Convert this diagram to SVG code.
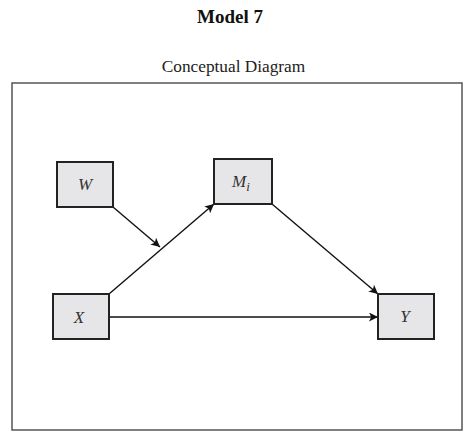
<svg xmlns="http://www.w3.org/2000/svg" width="474" height="442" viewBox="0 0 474 442">
<style>
.node rect{fill:#e6e6e8;stroke:#222;stroke-width:2}
.lbl{font-family:"Liberation Serif",serif;font-style:italic;font-size:17px;fill:#333;text-anchor:middle}
.conn line{stroke:#111;stroke-width:1.4}
</style>
<defs>
<marker id="ah" viewBox="0 0 10 10" refX="10" refY="5" markerWidth="9" markerHeight="9" markerUnits="userSpaceOnUse" orient="auto">
<path d="M0,0 L10,5 L0,10 L2.5,5 z" fill="#111"/>
</marker>
</defs>
<rect width="474" height="442" fill="#fff"/>
<text x="230" y="23" font-family="Liberation Serif, serif" font-weight="bold" font-size="19" text-anchor="middle" fill="#111">Model 7</text>
<text x="233.5" y="72" font-family="Liberation Serif, serif" font-size="17.3" text-anchor="middle" fill="#222">Conceptual Diagram</text>
<rect x="12" y="83" width="450" height="347" fill="none" stroke="#555" stroke-width="1.5"/>
<g class="conn">
<line x1="113" y1="207" x2="160" y2="247" marker-end="url(#ah)"/>
<line x1="109" y1="294" x2="214" y2="204" marker-end="url(#ah)"/>
<line x1="272" y1="204" x2="378" y2="294" marker-end="url(#ah)"/>
<line x1="109" y1="317" x2="378" y2="317" marker-end="url(#ah)"/>
</g>
<g id="W" class="node"><rect x="57" y="162" width="56" height="45"/><text class="lbl" x="85" y="190">W</text></g>
<g id="Mi" class="node"><rect x="214" y="159" width="58" height="45"/><text class="lbl" x="241" y="187">M<tspan font-size="13" dy="4">i</tspan></text></g>
<g id="X" class="node"><rect x="53" y="294" width="56" height="45"/><text class="lbl" x="79" y="323">X</text></g>
<g id="Y" class="node"><rect x="378" y="294" width="56" height="45"/><text class="lbl" x="405" y="322">Y</text></g>
</svg>
